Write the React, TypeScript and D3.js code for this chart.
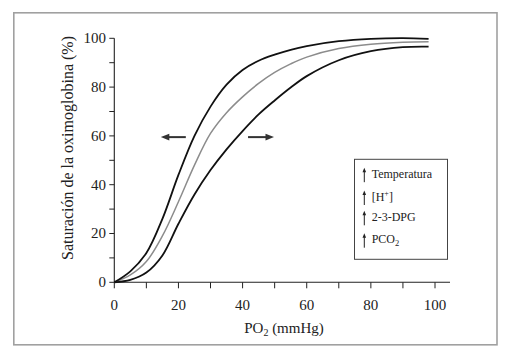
import React from "react";
import * as d3 from "d3";

const po2 = [0, 5, 10, 15, 20, 25, 30, 35, 40, 45, 50, 55, 60, 70, 80, 90, 98];
const leftShift = [0, 4.5, 12, 26, 44, 60, 72, 81, 87, 90.8, 93.3, 95.3, 96.8, 98.8, 99.8, 100.1, 99.8];
const normal = [0, 3, 8.5, 19, 33, 48, 61, 69.5, 76, 81.5, 86, 89.5, 92.3, 95.8, 97.6, 98.4, 98.6];
const rightShift = [0, 1, 4, 11, 24, 36, 46, 54.5, 62, 68.8, 74.5, 79.8, 84.5, 91, 94.7, 96.4, 96.6];

const xTicks = [0, 10, 20, 30, 40, 50, 60, 70, 80, 90, 100];
const xTickLabels = ["0", "20", "40", "60", "80", "100"];
const yTicks = [0, 10, 20, 30, 40, 50, 60, 70, 80, 90, 100];
const yTickLabels = ["0", "20", "40", "60", "80", "100"];

const leftArrow = { from: [22.3, 59.5], to: [14.5, 59.5] };
const rightArrow = { from: [41.7, 59.5], to: [49.8, 59.5] };

const legendItems = ["Temperatura", "[H+]", "2-3-DPG", "PCO2"];

const FONT = '"Liberation Serif", "Times New Roman", "DejaVu Serif", serif';

export default function App() {
  const x = d3.scaleLinear().domain([0, 100]).range([114.3, 435]);
  const y = d3.scaleLinear().domain([0, 100]).range([282.3, 38.3]);

  const line = (vals: number[]) =>
    d3
      .line<number>()
      .x((_, i) => x(po2[i]))
      .y((v) => y(v))
      .curve(d3.curveCatmullRom.alpha(0.5))(vals) || "";

  const arrow = (a: { from: number[]; to: number[] }) => {
    const x1 = x(a.from[0]);
    const x2 = x(a.to[0]);
    const yy = y(a.from[1]);
    const dir = x2 > x1 ? 1 : -1;
    const hl = 8.5;
    const hw = 3.3;
    return (
      <g>
        <line x1={x1} y1={yy} x2={x2 - dir * hl + dir * 1} y2={yy} stroke="#333" strokeWidth={2} />
        <path
          d={`M${x2},${yy} L${x2 - dir * hl},${yy - hw} L${x2 - dir * hl},${yy + hw} Z`}
          fill="#333"
        />
      </g>
    );
  };

  const legendBaselines = [177.7, 200.5, 220.8, 243.2];

  const renderLegendText = (t: string) => {
    if (t === "[H+]")
      return (
        <>
          [H<tspan dy={-4.5} fontSize={8}>+</tspan>
          <tspan dy={4.5}>]</tspan>
        </>
      );
    if (t === "PCO2")
      return (
        <>
          PCO<tspan dy={3} fontSize={8.5}>2</tspan>
        </>
      );
    return t;
  };

  const ts = { fontFamily: FONT };

  return (
    <svg
      width={514}
      height={356}
      style={{ position: "absolute", left: 0, top: 0, background: "#fff", fontFamily: FONT }}
    >
      <rect x={0} y={0} width={514} height={356} fill="#fff" />
      <rect x={13.8} y={12.8} width={483.2} height={332} fill="none" stroke="#a0a0a0" strokeWidth={1.6} />

      {/* axes */}
      <line x1={x(0)} y1={y(0)} x2={450} y2={y(0)} stroke="#222" strokeWidth={1.1} />
      <line x1={x(0)} y1={y(0)} x2={x(0)} y2={y(100)} stroke="#222" strokeWidth={1.1} />
      {xTicks.map((t) => (
        <line key={"xt" + t} x1={x(t)} x2={x(t)} y1={y(0)} y2={y(0) + 6} stroke="#222" strokeWidth={1} />
      ))}
      {yTicks.map((t) => (
        <line key={"yt" + t} x1={x(0) - 5} x2={x(0)} y1={y(t)} y2={y(t)} stroke="#222" strokeWidth={1} />
      ))}
      {xTickLabels.map((l) => (
        <text key={"xl" + l} style={ts} x={x(+l)} y={310} textAnchor="middle" fontSize={15} fill="#222">
          {l}
        </text>
      ))}
      {yTickLabels.map((l) => (
        <text key={"yl" + l} style={ts} x={106} y={y(+l)} dy="0.33em" textAnchor="end" fontSize={15} fill="#222">
          {l}
        </text>
      ))}

      <text style={ts} x={284} y={333} textAnchor="middle" fontSize={15} fill="#222">
        PO<tspan dy={3} fontSize={10}>2</tspan>
        <tspan dy={-3}> (mmHg)</tspan>
      </text>
      <text
        style={ts}
        transform={`translate(73,148) rotate(-90)`}
        textAnchor="middle"
        fontSize={16}
        fill="#222"
      >
        Saturación de la oximoglobina (%)
      </text>

      {/* curves */}
      <path d={line(normal)} fill="none" stroke="#8c8c8c" strokeWidth={1.5} />
      <path d={line(leftShift)} fill="none" stroke="#111" strokeWidth={1.8} />
      <path d={line(rightShift)} fill="none" stroke="#111" strokeWidth={1.8} />

      {arrow(leftArrow)}
      {arrow(rightArrow)}

      {/* legend */}
      <rect x={354.5} y={159.3} width={93} height={100} fill="#fff" stroke="#444" strokeWidth={1} />
      {legendItems.map((t, i) => {
        const b = legendBaselines[i];
        const ax = 364.3;
        return (
          <g key={t}>
            <line x1={ax} x2={ax} y1={b - 7} y2={b + 4.5} stroke="#222" strokeWidth={1} />
            <path d={`M${ax},${b - 10} L${ax - 1.8},${b - 5.5} L${ax + 1.8},${b - 5.5} Z`} fill="#222" />
            <text style={ts} x={371.7} y={b} fontSize={12} fill="#222">
              {renderLegendText(t)}
            </text>
          </g>
        );
      })}
    </svg>
  );
}
